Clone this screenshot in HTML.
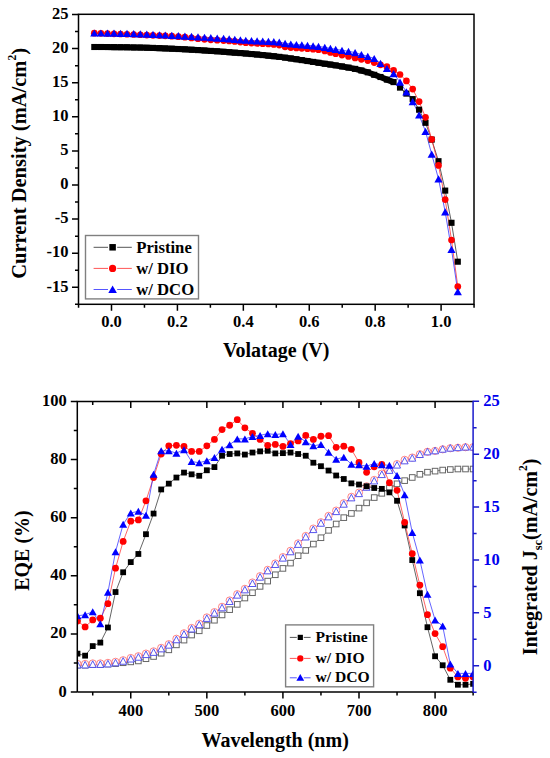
<!DOCTYPE html>
<html><head><meta charset="utf-8"><title>J-V and EQE</title>
<style>html,body{margin:0;padding:0;background:#fff;width:550px;height:758px;overflow:hidden}svg{display:block}text{font-family:"Liberation Serif",serif;font-weight:bold}</style>
</head><body>
<svg width="550" height="758" viewBox="0 0 550 758"><rect width="550" height="758" fill="#fff"/><g><polyline points="94.3,47 100.9,47.01 107.5,47.06 114,47.13 120.5,47.22 127,47.32 133.7,47.45 140.3,47.58 146.8,47.72 153,47.89 159.5,48.13 165.3,48.38 171.8,48.69 178.4,49.02 184.9,49.36 191.5,49.72 198,50.09 204.5,50.49 210.8,50.9 217.2,51.33 223.6,51.79 229.2,52.2 234.8,52.64 240.4,53.09 245.8,53.55 251.5,54.04 257.1,54.55 262.7,55.08 268.4,55.64 273.8,56.2 279.3,56.86 285.1,57.62 290.8,58.43 296.4,59.27 301.8,60.11 307.5,61.02 313.1,61.91 318.5,62.77 324.8,63.74 330.4,64.59 335.7,65.41 342,66.43 348.5,67.59 355.1,68.9 361.4,70.5 367.8,72.3 374.2,74.8 380.5,77 386.9,79.6 393.6,82.1 400,87.6 406.4,93.6 412.7,99.1 419.1,109.7 425.5,122.8 431.7,139.6 438.5,161.2 445.2,190.6 451.5,222.8 457.8,261.7" fill="none" stroke="#333" stroke-width="0.8"/><polyline points="94.3,33.19 100.9,33.37 107.5,33.57 114,33.78 120.5,34.01 127,34.24 133.7,34.5 140.3,34.77 146.8,35.03 153,35.29 159.5,35.58 165.3,35.86 171.8,36.21 178.4,36.63 184.9,37.21 191.5,37.96 198,38.71 204.5,39.34 210.8,39.79 217.2,40.18 223.6,40.56 229.2,40.93 234.8,41.38 240.4,42.05 245.8,42.67 251.5,43.09 257.1,43.39 262.7,43.66 268.4,43.99 273.8,44.41 279.3,45.05 285.1,46.82 290.8,47.54 296.4,48.02 301.8,48.36 307.5,48.71 313.1,49.15 318.5,49.77 324.8,51 330.4,52.39 335.7,53.65 342,55.04 348.5,56.45 355.1,57.9 361.4,59.3 367.8,60.6 374.2,62.6 380.5,64.8 386.9,66.7 393.6,70.3 400,74.5 406.4,80.9 412.7,89.1 419.1,101.6 425.5,117.3 431.7,139.3 438.5,165.4 445.2,199.6 451.5,240 457.8,286.6" fill="none" stroke="#f33" stroke-width="0.8"/><polyline points="94.3,33 100.9,33.02 107.5,33.08 114,33.17 120.5,33.28 127,33.4 133.7,33.59 140.3,33.85 146.8,34.13 153,34.41 159.5,34.73 165.3,35.02 171.8,35.37 178.4,35.72 184.9,36.08 191.5,36.45 198,36.84 204.5,37.23 210.8,37.62 217.2,38.03 223.6,38.47 229.2,38.91 234.8,39.39 240.4,39.86 245.8,40.25 251.5,40.57 257.1,40.81 262.7,41.04 268.4,41.31 273.8,41.65 279.3,42.13 285.1,43.31 290.8,43.99 296.4,44.5 301.8,44.92 307.5,45.34 313.1,45.82 318.5,46.4 324.8,47.35 330.4,48.35 335.7,49.3 342,50.29 348.5,51.31 355.1,52.6 361.4,54.5 367.8,56.4 374.2,58.5 380.5,63.4 386.9,68.5 393.6,73.7 400,82.2 406.4,91.8 412.7,101.6 419.1,115 425.5,131.3 431.7,154.2 438.5,178.9 445.2,211.9 451.5,249.4 457.8,291.7" fill="none" stroke="#33f" stroke-width="0.8"/><polyline points="94.3,47 100.9,47.01 107.5,47.06 114,47.13 120.5,47.22 127,47.32 133.7,47.45 140.3,47.58 146.8,47.72 153,47.89 159.5,48.13 165.3,48.38 171.8,48.69 178.4,49.02 184.9,49.36 191.5,49.72 198,50.09 204.5,50.49 210.8,50.9 217.2,51.33 223.6,51.79 229.2,52.2 234.8,52.64 240.4,53.09 245.8,53.55 251.5,54.04 257.1,54.55 262.7,55.08 268.4,55.64 273.8,56.2 279.3,56.86 285.1,57.62 290.8,58.43 296.4,59.27 301.8,60.11 307.5,61.02 313.1,61.91 318.5,62.77 324.8,63.74 330.4,64.59 335.7,65.41 342,66.43 348.5,67.59 355.1,68.9 361.4,70.5 367.8,72.3 374.2,74.8 380.5,77 386.9,79.6 393.6,82.1" fill="none" stroke="#000" stroke-width="6.0"/><rect x="91.25" y="43.95" width="6.1" height="6.1" fill="#000"/><rect x="97.85" y="43.96" width="6.1" height="6.1" fill="#000"/><rect x="104.45" y="44.01" width="6.1" height="6.1" fill="#000"/><rect x="110.95" y="44.08" width="6.1" height="6.1" fill="#000"/><rect x="117.45" y="44.17" width="6.1" height="6.1" fill="#000"/><rect x="123.95" y="44.27" width="6.1" height="6.1" fill="#000"/><rect x="130.65" y="44.4" width="6.1" height="6.1" fill="#000"/><rect x="137.25" y="44.53" width="6.1" height="6.1" fill="#000"/><rect x="143.75" y="44.67" width="6.1" height="6.1" fill="#000"/><rect x="149.95" y="44.84" width="6.1" height="6.1" fill="#000"/><rect x="156.45" y="45.08" width="6.1" height="6.1" fill="#000"/><rect x="162.25" y="45.33" width="6.1" height="6.1" fill="#000"/><rect x="168.75" y="45.64" width="6.1" height="6.1" fill="#000"/><rect x="175.35" y="45.97" width="6.1" height="6.1" fill="#000"/><rect x="181.85" y="46.31" width="6.1" height="6.1" fill="#000"/><rect x="188.45" y="46.67" width="6.1" height="6.1" fill="#000"/><rect x="194.95" y="47.04" width="6.1" height="6.1" fill="#000"/><rect x="201.45" y="47.44" width="6.1" height="6.1" fill="#000"/><rect x="207.75" y="47.85" width="6.1" height="6.1" fill="#000"/><rect x="214.15" y="48.28" width="6.1" height="6.1" fill="#000"/><rect x="220.55" y="48.74" width="6.1" height="6.1" fill="#000"/><rect x="226.15" y="49.15" width="6.1" height="6.1" fill="#000"/><rect x="231.75" y="49.59" width="6.1" height="6.1" fill="#000"/><rect x="237.35" y="50.04" width="6.1" height="6.1" fill="#000"/><rect x="242.75" y="50.5" width="6.1" height="6.1" fill="#000"/><rect x="248.45" y="50.99" width="6.1" height="6.1" fill="#000"/><rect x="254.05" y="51.5" width="6.1" height="6.1" fill="#000"/><rect x="259.65" y="52.03" width="6.1" height="6.1" fill="#000"/><rect x="265.35" y="52.59" width="6.1" height="6.1" fill="#000"/><rect x="270.75" y="53.15" width="6.1" height="6.1" fill="#000"/><rect x="276.25" y="53.81" width="6.1" height="6.1" fill="#000"/><rect x="282.05" y="54.57" width="6.1" height="6.1" fill="#000"/><rect x="287.75" y="55.38" width="6.1" height="6.1" fill="#000"/><rect x="293.35" y="56.22" width="6.1" height="6.1" fill="#000"/><rect x="298.75" y="57.06" width="6.1" height="6.1" fill="#000"/><rect x="304.45" y="57.97" width="6.1" height="6.1" fill="#000"/><rect x="310.05" y="58.86" width="6.1" height="6.1" fill="#000"/><rect x="315.45" y="59.72" width="6.1" height="6.1" fill="#000"/><rect x="321.75" y="60.69" width="6.1" height="6.1" fill="#000"/><rect x="327.35" y="61.54" width="6.1" height="6.1" fill="#000"/><rect x="332.65" y="62.36" width="6.1" height="6.1" fill="#000"/><rect x="338.95" y="63.38" width="6.1" height="6.1" fill="#000"/><rect x="345.45" y="64.54" width="6.1" height="6.1" fill="#000"/><rect x="352.05" y="65.85" width="6.1" height="6.1" fill="#000"/><rect x="358.35" y="67.45" width="6.1" height="6.1" fill="#000"/><rect x="364.75" y="69.25" width="6.1" height="6.1" fill="#000"/><rect x="371.15" y="71.75" width="6.1" height="6.1" fill="#000"/><rect x="377.45" y="73.95" width="6.1" height="6.1" fill="#000"/><rect x="383.85" y="76.55" width="6.1" height="6.1" fill="#000"/><rect x="390.55" y="79.05" width="6.1" height="6.1" fill="#000"/><rect x="396.95" y="84.55" width="6.1" height="6.1" fill="#000"/><rect x="403.35" y="90.55" width="6.1" height="6.1" fill="#000"/><rect x="409.65" y="96.05" width="6.1" height="6.1" fill="#000"/><rect x="416.05" y="106.65" width="6.1" height="6.1" fill="#000"/><rect x="422.45" y="119.75" width="6.1" height="6.1" fill="#000"/><rect x="428.65" y="136.55" width="6.1" height="6.1" fill="#000"/><rect x="435.45" y="158.15" width="6.1" height="6.1" fill="#000"/><rect x="442.15" y="187.55" width="6.1" height="6.1" fill="#000"/><rect x="448.45" y="219.75" width="6.1" height="6.1" fill="#000"/><rect x="454.75" y="258.65" width="6.1" height="6.1" fill="#000"/><circle cx="94.3" cy="33.19" r="3.35" fill="#f00"/><circle cx="100.9" cy="33.37" r="3.35" fill="#f00"/><circle cx="107.5" cy="33.57" r="3.35" fill="#f00"/><circle cx="114" cy="33.78" r="3.35" fill="#f00"/><circle cx="120.5" cy="34.01" r="3.35" fill="#f00"/><circle cx="127" cy="34.24" r="3.35" fill="#f00"/><circle cx="133.7" cy="34.5" r="3.35" fill="#f00"/><circle cx="140.3" cy="34.77" r="3.35" fill="#f00"/><circle cx="146.8" cy="35.03" r="3.35" fill="#f00"/><circle cx="153" cy="35.29" r="3.35" fill="#f00"/><circle cx="159.5" cy="35.58" r="3.35" fill="#f00"/><circle cx="165.3" cy="35.86" r="3.35" fill="#f00"/><circle cx="171.8" cy="36.21" r="3.35" fill="#f00"/><circle cx="178.4" cy="36.63" r="3.35" fill="#f00"/><circle cx="184.9" cy="37.21" r="3.35" fill="#f00"/><circle cx="191.5" cy="37.96" r="3.35" fill="#f00"/><circle cx="198" cy="38.71" r="3.35" fill="#f00"/><circle cx="204.5" cy="39.34" r="3.35" fill="#f00"/><circle cx="210.8" cy="39.79" r="3.35" fill="#f00"/><circle cx="217.2" cy="40.18" r="3.35" fill="#f00"/><circle cx="223.6" cy="40.56" r="3.35" fill="#f00"/><circle cx="229.2" cy="40.93" r="3.35" fill="#f00"/><circle cx="234.8" cy="41.38" r="3.35" fill="#f00"/><circle cx="240.4" cy="42.05" r="3.35" fill="#f00"/><circle cx="245.8" cy="42.67" r="3.35" fill="#f00"/><circle cx="251.5" cy="43.09" r="3.35" fill="#f00"/><circle cx="257.1" cy="43.39" r="3.35" fill="#f00"/><circle cx="262.7" cy="43.66" r="3.35" fill="#f00"/><circle cx="268.4" cy="43.99" r="3.35" fill="#f00"/><circle cx="273.8" cy="44.41" r="3.35" fill="#f00"/><circle cx="279.3" cy="45.05" r="3.35" fill="#f00"/><circle cx="285.1" cy="46.82" r="3.35" fill="#f00"/><circle cx="290.8" cy="47.54" r="3.35" fill="#f00"/><circle cx="296.4" cy="48.02" r="3.35" fill="#f00"/><circle cx="301.8" cy="48.36" r="3.35" fill="#f00"/><circle cx="307.5" cy="48.71" r="3.35" fill="#f00"/><circle cx="313.1" cy="49.15" r="3.35" fill="#f00"/><circle cx="318.5" cy="49.77" r="3.35" fill="#f00"/><circle cx="324.8" cy="51" r="3.35" fill="#f00"/><circle cx="330.4" cy="52.39" r="3.35" fill="#f00"/><circle cx="335.7" cy="53.65" r="3.35" fill="#f00"/><circle cx="342" cy="55.04" r="3.35" fill="#f00"/><circle cx="348.5" cy="56.45" r="3.35" fill="#f00"/><circle cx="355.1" cy="57.9" r="3.35" fill="#f00"/><circle cx="361.4" cy="59.3" r="3.35" fill="#f00"/><circle cx="367.8" cy="60.6" r="3.35" fill="#f00"/><circle cx="374.2" cy="62.6" r="3.35" fill="#f00"/><circle cx="380.5" cy="64.8" r="3.35" fill="#f00"/><circle cx="386.9" cy="66.7" r="3.35" fill="#f00"/><circle cx="393.6" cy="70.3" r="3.35" fill="#f00"/><circle cx="400" cy="74.5" r="3.35" fill="#f00"/><circle cx="406.4" cy="80.9" r="3.35" fill="#f00"/><circle cx="412.7" cy="89.1" r="3.35" fill="#f00"/><circle cx="419.1" cy="101.6" r="3.35" fill="#f00"/><circle cx="425.5" cy="117.3" r="3.35" fill="#f00"/><circle cx="431.7" cy="139.3" r="3.35" fill="#f00"/><circle cx="438.5" cy="165.4" r="3.35" fill="#f00"/><circle cx="445.2" cy="199.6" r="3.35" fill="#f00"/><circle cx="451.5" cy="240" r="3.35" fill="#f00"/><circle cx="457.8" cy="286.6" r="3.35" fill="#f00"/><polygon points="94.3,29.4 98.4,36.6 90.2,36.6" fill="#00f"/><polygon points="100.9,29.42 105,36.62 96.8,36.62" fill="#00f"/><polygon points="107.5,29.48 111.6,36.68 103.4,36.68" fill="#00f"/><polygon points="114,29.57 118.1,36.77 109.9,36.77" fill="#00f"/><polygon points="120.5,29.68 124.6,36.88 116.4,36.88" fill="#00f"/><polygon points="127,29.8 131.1,37 122.9,37" fill="#00f"/><polygon points="133.7,29.99 137.8,37.19 129.6,37.19" fill="#00f"/><polygon points="140.3,30.25 144.4,37.45 136.2,37.45" fill="#00f"/><polygon points="146.8,30.53 150.9,37.73 142.7,37.73" fill="#00f"/><polygon points="153,30.81 157.1,38.01 148.9,38.01" fill="#00f"/><polygon points="159.5,31.13 163.6,38.33 155.4,38.33" fill="#00f"/><polygon points="165.3,31.42 169.4,38.62 161.2,38.62" fill="#00f"/><polygon points="171.8,31.77 175.9,38.97 167.7,38.97" fill="#00f"/><polygon points="178.4,32.12 182.5,39.32 174.3,39.32" fill="#00f"/><polygon points="184.9,32.48 189,39.68 180.8,39.68" fill="#00f"/><polygon points="191.5,32.85 195.6,40.05 187.4,40.05" fill="#00f"/><polygon points="198,33.24 202.1,40.44 193.9,40.44" fill="#00f"/><polygon points="204.5,33.63 208.6,40.83 200.4,40.83" fill="#00f"/><polygon points="210.8,34.02 214.9,41.22 206.7,41.22" fill="#00f"/><polygon points="217.2,34.43 221.3,41.63 213.1,41.63" fill="#00f"/><polygon points="223.6,34.87 227.7,42.07 219.5,42.07" fill="#00f"/><polygon points="229.2,35.31 233.3,42.51 225.1,42.51" fill="#00f"/><polygon points="234.8,35.79 238.9,42.99 230.7,42.99" fill="#00f"/><polygon points="240.4,36.26 244.5,43.46 236.3,43.46" fill="#00f"/><polygon points="245.8,36.65 249.9,43.85 241.7,43.85" fill="#00f"/><polygon points="251.5,36.97 255.6,44.17 247.4,44.17" fill="#00f"/><polygon points="257.1,37.21 261.2,44.41 253,44.41" fill="#00f"/><polygon points="262.7,37.44 266.8,44.64 258.6,44.64" fill="#00f"/><polygon points="268.4,37.71 272.5,44.91 264.3,44.91" fill="#00f"/><polygon points="273.8,38.05 277.9,45.25 269.7,45.25" fill="#00f"/><polygon points="279.3,38.53 283.4,45.73 275.2,45.73" fill="#00f"/><polygon points="285.1,39.71 289.2,46.91 281,46.91" fill="#00f"/><polygon points="290.8,40.39 294.9,47.59 286.7,47.59" fill="#00f"/><polygon points="296.4,40.9 300.5,48.1 292.3,48.1" fill="#00f"/><polygon points="301.8,41.32 305.9,48.52 297.7,48.52" fill="#00f"/><polygon points="307.5,41.74 311.6,48.94 303.4,48.94" fill="#00f"/><polygon points="313.1,42.22 317.2,49.42 309,49.42" fill="#00f"/><polygon points="318.5,42.8 322.6,50 314.4,50" fill="#00f"/><polygon points="324.8,43.75 328.9,50.95 320.7,50.95" fill="#00f"/><polygon points="330.4,44.75 334.5,51.95 326.3,51.95" fill="#00f"/><polygon points="335.7,45.7 339.8,52.9 331.6,52.9" fill="#00f"/><polygon points="342,46.69 346.1,53.89 337.9,53.89" fill="#00f"/><polygon points="348.5,47.71 352.6,54.91 344.4,54.91" fill="#00f"/><polygon points="355.1,49 359.2,56.2 351,56.2" fill="#00f"/><polygon points="361.4,50.9 365.5,58.1 357.3,58.1" fill="#00f"/><polygon points="367.8,52.8 371.9,60 363.7,60" fill="#00f"/><polygon points="374.2,54.9 378.3,62.1 370.1,62.1" fill="#00f"/><polygon points="380.5,59.8 384.6,67 376.4,67" fill="#00f"/><polygon points="386.9,64.9 391,72.1 382.8,72.1" fill="#00f"/><polygon points="393.6,70.1 397.7,77.3 389.5,77.3" fill="#00f"/><polygon points="400,78.6 404.1,85.8 395.9,85.8" fill="#00f"/><polygon points="406.4,88.2 410.5,95.4 402.3,95.4" fill="#00f"/><polygon points="412.7,98 416.8,105.2 408.6,105.2" fill="#00f"/><polygon points="419.1,111.4 423.2,118.6 415,118.6" fill="#00f"/><polygon points="425.5,127.7 429.6,134.9 421.4,134.9" fill="#00f"/><polygon points="431.7,150.6 435.8,157.8 427.6,157.8" fill="#00f"/><polygon points="438.5,175.3 442.6,182.5 434.4,182.5" fill="#00f"/><polygon points="445.2,208.3 449.3,215.5 441.1,215.5" fill="#00f"/><polygon points="451.5,245.8 455.6,253 447.4,253" fill="#00f"/><polygon points="457.8,288.1 461.9,295.3 453.7,295.3" fill="#00f"/></g><g><rect x="85.5" y="235.5" width="113" height="63.4" fill="#fff" stroke="#808080" stroke-width="1.4"/><path d="M93.6,247.3H108M117.2,247.3H131.8" stroke="#555" stroke-width="1"/><rect x="109.35" y="244.05" width="6.5" height="6.5" fill="#000"/><text x="136.2" y="252.8" font-size="16.7">Pristine</text><path d="M93.6,268.4H108M117.2,268.4H131.8" stroke="#f55" stroke-width="1"/><circle cx="112.6" cy="268.4" r="3.6" fill="#f00"/><text x="136.2" y="273.9" font-size="16.7">w/ DIO</text><path d="M93.6,289.5H108M117.2,289.5H131.8" stroke="#55f" stroke-width="1"/><polygon points="112.6,285.4 116.9,293 108.3,293" fill="#00f"/><text x="136.2" y="295" font-size="16.7">w/ DCO</text></g><g><rect x="78.5" y="14.3" width="395.5" height="290.0" fill="none" stroke="#000" stroke-width="1.5"/><path d="M72.0,287.3H78.5 M72.0,253.2H78.5 M72.0,219.1H78.5 M72.0,185H78.5 M72.0,150.9H78.5 M72.0,116.8H78.5 M72.0,82.7H78.5 M72.0,48.6H78.5 M72.0,14.5H78.5 M75.0,304.35H78.5 M75.0,270.25H78.5 M75.0,236.15H78.5 M75.0,202.05H78.5 M75.0,167.95H78.5 M75.0,133.85H78.5 M75.0,99.75H78.5 M75.0,65.65H78.5 M75.0,31.55H78.5 M111.5,304.3V310.8 M177.42,304.3V310.8 M243.34,304.3V310.8 M309.26,304.3V310.8 M375.18,304.3V310.8 M441.1,304.3V310.8 M78.54,304.3V307.8 M144.46,304.3V307.8 M210.38,304.3V307.8 M276.3,304.3V307.8 M342.22,304.3V307.8 M408.14,304.3V307.8 M474.06,304.3V307.8" stroke="#000" stroke-width="1.5" fill="none"/></g><defs><clipPath id="cb"><rect x="77.3" y="401.4" width="395.8" height="290.6"/></clipPath></defs><g clip-path="url(#cb)"><polyline points="77.5,665.17 85.11,665.17 92.72,664.64 100.32,664.64 107.93,664.11 115.54,663.59 123.15,662.74 130.76,661.89 138.36,660.94 145.97,658.72 153.58,656.5 161.19,653.22 168.8,649.84 176.4,644.87 184.01,640.11 191.62,635.03 199.23,630.8 206.84,625.52 214.44,620.23 222.05,614.94 229.66,609.65 237.27,604.37 244.88,598.02 252.48,592.73 260.09,586.39 267.7,581.1 275.31,574.76 282.92,568.41 290.52,563.12 298.13,555.72 305.74,550.43 313.35,544.09 320.96,537.74 328.56,530.34 336.17,524 343.78,517.65 351.39,513.42 359,508.13 366.6,502.85 374.21,497.56 381.82,493.33 389.43,488.04 397.04,483.81 404.64,480.64 412.25,477.47 419.86,474.29 427.47,472.18 435.08,471.12 442.68,470.06 450.29,469.53 457.9,469.01 465.51,469.01 473.12,469.01" fill="none" stroke="#555" stroke-width="0.8"/><polyline points="77.5,664.64 85.11,664.64 92.72,664.11 100.32,664.11 107.93,663.59 115.54,662.53 123.15,660.94 130.76,658.72 138.36,656.92 145.97,654.28 153.58,652.06 161.19,648.57 168.8,644.87 176.4,639.47 184.01,633.98 191.62,628.69 199.23,624.46 206.84,618.11 214.44,612.83 222.05,607.54 229.66,601.19 237.27,594.85 244.88,589.56 252.48,583.22 260.09,576.87 267.7,570.53 275.31,564.18 282.92,557.84 290.52,551.49 298.13,544.09 305.74,536.69 313.35,529.28 320.96,522.94 328.56,516.59 336.17,511.31 343.78,503.9 351.39,497.56 359,493.33 366.6,486.98 374.21,480.64 381.82,474.29 389.43,470.06 397.04,464.78 404.64,460.55 412.25,457.9 419.86,454.2 427.47,451.56 435.08,450.5 442.68,448.91 450.29,447.86 457.9,447.33 465.51,446.8 473.12,446.8" fill="none" stroke="#f44" stroke-width="0.8"/><polyline points="77.5,664.64 85.11,664.64 92.72,664.11 100.32,664.11 107.93,663.59 115.54,662.53 123.15,660.94 130.76,658.72 138.36,656.92 145.97,654.28 153.58,652.06 161.19,648.57 168.8,644.87 176.4,639.47 184.01,633.98 191.62,628.69 199.23,624.46 206.84,618.11 214.44,612.83 222.05,607.54 229.66,601.19 237.27,594.85 244.88,589.56 252.48,583.22 260.09,576.87 267.7,570.53 275.31,564.18 282.92,557.84 290.52,551.49 298.13,544.09 305.74,536.69 313.35,529.28 320.96,522.94 328.56,516.59 336.17,511.31 343.78,503.9 351.39,497.56 359,493.33 366.6,486.98 374.21,480.64 381.82,474.29 389.43,470.06 397.04,464.78 404.64,460.55 412.25,457.9 419.86,454.2 427.47,451.56 435.08,450.5 442.68,448.91 450.29,447.86 457.9,447.33 465.51,446.8 473.12,446.8" fill="none" stroke="#44f" stroke-width="0.8"/><rect x="74.7" y="662.37" width="5.6" height="5.6" fill="#fff" stroke="#666" stroke-width="1"/><rect x="82.31" y="662.37" width="5.6" height="5.6" fill="#fff" stroke="#666" stroke-width="1"/><rect x="89.92" y="661.84" width="5.6" height="5.6" fill="#fff" stroke="#666" stroke-width="1"/><rect x="97.52" y="661.84" width="5.6" height="5.6" fill="#fff" stroke="#666" stroke-width="1"/><rect x="105.13" y="661.31" width="5.6" height="5.6" fill="#fff" stroke="#666" stroke-width="1"/><rect x="112.74" y="660.79" width="5.6" height="5.6" fill="#fff" stroke="#666" stroke-width="1"/><rect x="120.35" y="659.94" width="5.6" height="5.6" fill="#fff" stroke="#666" stroke-width="1"/><rect x="127.96" y="659.09" width="5.6" height="5.6" fill="#fff" stroke="#666" stroke-width="1"/><rect x="135.56" y="658.14" width="5.6" height="5.6" fill="#fff" stroke="#666" stroke-width="1"/><rect x="143.17" y="655.92" width="5.6" height="5.6" fill="#fff" stroke="#666" stroke-width="1"/><rect x="150.78" y="653.7" width="5.6" height="5.6" fill="#fff" stroke="#666" stroke-width="1"/><rect x="158.39" y="650.42" width="5.6" height="5.6" fill="#fff" stroke="#666" stroke-width="1"/><rect x="166" y="647.04" width="5.6" height="5.6" fill="#fff" stroke="#666" stroke-width="1"/><rect x="173.6" y="642.07" width="5.6" height="5.6" fill="#fff" stroke="#666" stroke-width="1"/><rect x="181.21" y="637.31" width="5.6" height="5.6" fill="#fff" stroke="#666" stroke-width="1"/><rect x="188.82" y="632.23" width="5.6" height="5.6" fill="#fff" stroke="#666" stroke-width="1"/><rect x="196.43" y="628" width="5.6" height="5.6" fill="#fff" stroke="#666" stroke-width="1"/><rect x="204.04" y="622.72" width="5.6" height="5.6" fill="#fff" stroke="#666" stroke-width="1"/><rect x="211.64" y="617.43" width="5.6" height="5.6" fill="#fff" stroke="#666" stroke-width="1"/><rect x="219.25" y="612.14" width="5.6" height="5.6" fill="#fff" stroke="#666" stroke-width="1"/><rect x="226.86" y="606.85" width="5.6" height="5.6" fill="#fff" stroke="#666" stroke-width="1"/><rect x="234.47" y="601.57" width="5.6" height="5.6" fill="#fff" stroke="#666" stroke-width="1"/><rect x="242.08" y="595.22" width="5.6" height="5.6" fill="#fff" stroke="#666" stroke-width="1"/><rect x="249.68" y="589.93" width="5.6" height="5.6" fill="#fff" stroke="#666" stroke-width="1"/><rect x="257.29" y="583.59" width="5.6" height="5.6" fill="#fff" stroke="#666" stroke-width="1"/><rect x="264.9" y="578.3" width="5.6" height="5.6" fill="#fff" stroke="#666" stroke-width="1"/><rect x="272.51" y="571.96" width="5.6" height="5.6" fill="#fff" stroke="#666" stroke-width="1"/><rect x="280.12" y="565.61" width="5.6" height="5.6" fill="#fff" stroke="#666" stroke-width="1"/><rect x="287.72" y="560.32" width="5.6" height="5.6" fill="#fff" stroke="#666" stroke-width="1"/><rect x="295.33" y="552.92" width="5.6" height="5.6" fill="#fff" stroke="#666" stroke-width="1"/><rect x="302.94" y="547.63" width="5.6" height="5.6" fill="#fff" stroke="#666" stroke-width="1"/><rect x="310.55" y="541.29" width="5.6" height="5.6" fill="#fff" stroke="#666" stroke-width="1"/><rect x="318.16" y="534.94" width="5.6" height="5.6" fill="#fff" stroke="#666" stroke-width="1"/><rect x="325.76" y="527.54" width="5.6" height="5.6" fill="#fff" stroke="#666" stroke-width="1"/><rect x="333.37" y="521.2" width="5.6" height="5.6" fill="#fff" stroke="#666" stroke-width="1"/><rect x="340.98" y="514.85" width="5.6" height="5.6" fill="#fff" stroke="#666" stroke-width="1"/><rect x="348.59" y="510.62" width="5.6" height="5.6" fill="#fff" stroke="#666" stroke-width="1"/><rect x="356.2" y="505.33" width="5.6" height="5.6" fill="#fff" stroke="#666" stroke-width="1"/><rect x="363.8" y="500.05" width="5.6" height="5.6" fill="#fff" stroke="#666" stroke-width="1"/><rect x="371.41" y="494.76" width="5.6" height="5.6" fill="#fff" stroke="#666" stroke-width="1"/><rect x="379.02" y="490.53" width="5.6" height="5.6" fill="#fff" stroke="#666" stroke-width="1"/><rect x="386.63" y="485.24" width="5.6" height="5.6" fill="#fff" stroke="#666" stroke-width="1"/><rect x="394.24" y="481.01" width="5.6" height="5.6" fill="#fff" stroke="#666" stroke-width="1"/><rect x="401.84" y="477.84" width="5.6" height="5.6" fill="#fff" stroke="#666" stroke-width="1"/><rect x="409.45" y="474.67" width="5.6" height="5.6" fill="#fff" stroke="#666" stroke-width="1"/><rect x="417.06" y="471.49" width="5.6" height="5.6" fill="#fff" stroke="#666" stroke-width="1"/><rect x="424.67" y="469.38" width="5.6" height="5.6" fill="#fff" stroke="#666" stroke-width="1"/><rect x="432.28" y="468.32" width="5.6" height="5.6" fill="#fff" stroke="#666" stroke-width="1"/><rect x="439.88" y="467.26" width="5.6" height="5.6" fill="#fff" stroke="#666" stroke-width="1"/><rect x="447.49" y="466.73" width="5.6" height="5.6" fill="#fff" stroke="#666" stroke-width="1"/><rect x="455.1" y="466.21" width="5.6" height="5.6" fill="#fff" stroke="#666" stroke-width="1"/><rect x="462.71" y="466.21" width="5.6" height="5.6" fill="#fff" stroke="#666" stroke-width="1"/><rect x="470.32" y="466.21" width="5.6" height="5.6" fill="#fff" stroke="#666" stroke-width="1"/><circle cx="77.5" cy="663.94" r="3.6" fill="#fff" stroke="#f66" stroke-width="0.8"/><circle cx="85.11" cy="663.94" r="3.6" fill="#fff" stroke="#f66" stroke-width="0.8"/><circle cx="92.72" cy="663.41" r="3.6" fill="#fff" stroke="#f66" stroke-width="0.8"/><circle cx="100.32" cy="663.41" r="3.6" fill="#fff" stroke="#f66" stroke-width="0.8"/><circle cx="107.93" cy="662.88" r="3.6" fill="#fff" stroke="#f66" stroke-width="0.8"/><circle cx="115.54" cy="661.83" r="3.6" fill="#fff" stroke="#f66" stroke-width="0.8"/><circle cx="123.15" cy="660.24" r="3.6" fill="#fff" stroke="#f66" stroke-width="0.8"/><circle cx="130.76" cy="658.02" r="3.6" fill="#fff" stroke="#f66" stroke-width="0.8"/><circle cx="138.36" cy="656.22" r="3.6" fill="#fff" stroke="#f66" stroke-width="0.8"/><circle cx="145.97" cy="653.58" r="3.6" fill="#fff" stroke="#f66" stroke-width="0.8"/><circle cx="153.58" cy="651.36" r="3.6" fill="#fff" stroke="#f66" stroke-width="0.8"/><circle cx="161.19" cy="647.87" r="3.6" fill="#fff" stroke="#f66" stroke-width="0.8"/><circle cx="168.8" cy="644.17" r="3.6" fill="#fff" stroke="#f66" stroke-width="0.8"/><circle cx="176.4" cy="638.77" r="3.6" fill="#fff" stroke="#f66" stroke-width="0.8"/><circle cx="184.01" cy="633.27" r="3.6" fill="#fff" stroke="#f66" stroke-width="0.8"/><circle cx="191.62" cy="627.99" r="3.6" fill="#fff" stroke="#f66" stroke-width="0.8"/><circle cx="199.23" cy="623.76" r="3.6" fill="#fff" stroke="#f66" stroke-width="0.8"/><circle cx="206.84" cy="617.41" r="3.6" fill="#fff" stroke="#f66" stroke-width="0.8"/><circle cx="214.44" cy="612.12" r="3.6" fill="#fff" stroke="#f66" stroke-width="0.8"/><circle cx="222.05" cy="606.84" r="3.6" fill="#fff" stroke="#f66" stroke-width="0.8"/><circle cx="229.66" cy="600.49" r="3.6" fill="#fff" stroke="#f66" stroke-width="0.8"/><circle cx="237.27" cy="594.15" r="3.6" fill="#fff" stroke="#f66" stroke-width="0.8"/><circle cx="244.88" cy="588.86" r="3.6" fill="#fff" stroke="#f66" stroke-width="0.8"/><circle cx="252.48" cy="582.51" r="3.6" fill="#fff" stroke="#f66" stroke-width="0.8"/><circle cx="260.09" cy="576.17" r="3.6" fill="#fff" stroke="#f66" stroke-width="0.8"/><circle cx="267.7" cy="569.83" r="3.6" fill="#fff" stroke="#f66" stroke-width="0.8"/><circle cx="275.31" cy="563.48" r="3.6" fill="#fff" stroke="#f66" stroke-width="0.8"/><circle cx="282.92" cy="557.13" r="3.6" fill="#fff" stroke="#f66" stroke-width="0.8"/><circle cx="290.52" cy="550.79" r="3.6" fill="#fff" stroke="#f66" stroke-width="0.8"/><circle cx="298.13" cy="543.39" r="3.6" fill="#fff" stroke="#f66" stroke-width="0.8"/><circle cx="305.74" cy="535.99" r="3.6" fill="#fff" stroke="#f66" stroke-width="0.8"/><circle cx="313.35" cy="528.58" r="3.6" fill="#fff" stroke="#f66" stroke-width="0.8"/><circle cx="320.96" cy="522.24" r="3.6" fill="#fff" stroke="#f66" stroke-width="0.8"/><circle cx="328.56" cy="515.89" r="3.6" fill="#fff" stroke="#f66" stroke-width="0.8"/><circle cx="336.17" cy="510.61" r="3.6" fill="#fff" stroke="#f66" stroke-width="0.8"/><circle cx="343.78" cy="503.2" r="3.6" fill="#fff" stroke="#f66" stroke-width="0.8"/><circle cx="351.39" cy="496.86" r="3.6" fill="#fff" stroke="#f66" stroke-width="0.8"/><circle cx="359" cy="492.63" r="3.6" fill="#fff" stroke="#f66" stroke-width="0.8"/><circle cx="366.6" cy="486.28" r="3.6" fill="#fff" stroke="#f66" stroke-width="0.8"/><circle cx="374.21" cy="479.94" r="3.6" fill="#fff" stroke="#f66" stroke-width="0.8"/><circle cx="381.82" cy="473.59" r="3.6" fill="#fff" stroke="#f66" stroke-width="0.8"/><circle cx="389.43" cy="469.36" r="3.6" fill="#fff" stroke="#f66" stroke-width="0.8"/><circle cx="397.04" cy="464.08" r="3.6" fill="#fff" stroke="#f66" stroke-width="0.8"/><circle cx="404.64" cy="459.85" r="3.6" fill="#fff" stroke="#f66" stroke-width="0.8"/><circle cx="412.25" cy="457.55" r="3.6" fill="#fff" stroke="#f66" stroke-width="0.8"/><circle cx="419.86" cy="454.2" r="3.6" fill="#fff" stroke="#f66" stroke-width="0.8"/><circle cx="427.47" cy="451.76" r="3.6" fill="#fff" stroke="#f66" stroke-width="0.8"/><circle cx="435.08" cy="450.9" r="3.6" fill="#fff" stroke="#f66" stroke-width="0.8"/><circle cx="442.68" cy="449.31" r="3.6" fill="#fff" stroke="#f66" stroke-width="0.8"/><circle cx="450.29" cy="448.25" r="3.6" fill="#fff" stroke="#f66" stroke-width="0.8"/><circle cx="457.9" cy="447.73" r="3.6" fill="#fff" stroke="#f66" stroke-width="0.8"/><circle cx="465.51" cy="447.2" r="3.6" fill="#fff" stroke="#f66" stroke-width="0.8"/><circle cx="473.12" cy="447.2" r="3.6" fill="#fff" stroke="#f66" stroke-width="0.8"/><polygon points="77.5,661.34 81,667.94 74,667.94" fill="#fff" stroke="#44e" stroke-width="0.9"/><polygon points="85.11,661.34 88.61,667.94 81.61,667.94" fill="#fff" stroke="#44e" stroke-width="0.9"/><polygon points="92.72,660.81 96.22,667.41 89.22,667.41" fill="#fff" stroke="#44e" stroke-width="0.9"/><polygon points="100.32,660.81 103.82,667.41 96.82,667.41" fill="#fff" stroke="#44e" stroke-width="0.9"/><polygon points="107.93,660.29 111.43,666.88 104.43,666.88" fill="#fff" stroke="#44e" stroke-width="0.9"/><polygon points="115.54,659.23 119.04,665.83 112.04,665.83" fill="#fff" stroke="#44e" stroke-width="0.9"/><polygon points="123.15,657.64 126.65,664.24 119.65,664.24" fill="#fff" stroke="#44e" stroke-width="0.9"/><polygon points="130.76,655.42 134.26,662.02 127.26,662.02" fill="#fff" stroke="#44e" stroke-width="0.9"/><polygon points="138.36,653.62 141.86,660.22 134.86,660.22" fill="#fff" stroke="#44e" stroke-width="0.9"/><polygon points="145.97,650.98 149.47,657.58 142.47,657.58" fill="#fff" stroke="#44e" stroke-width="0.9"/><polygon points="153.58,648.76 157.08,655.36 150.08,655.36" fill="#fff" stroke="#44e" stroke-width="0.9"/><polygon points="161.19,645.27 164.69,651.87 157.69,651.87" fill="#fff" stroke="#44e" stroke-width="0.9"/><polygon points="168.8,641.57 172.3,648.17 165.3,648.17" fill="#fff" stroke="#44e" stroke-width="0.9"/><polygon points="176.4,636.17 179.9,642.77 172.9,642.77" fill="#fff" stroke="#44e" stroke-width="0.9"/><polygon points="184.01,630.68 187.51,637.27 180.51,637.27" fill="#fff" stroke="#44e" stroke-width="0.9"/><polygon points="191.62,625.39 195.12,631.99 188.12,631.99" fill="#fff" stroke="#44e" stroke-width="0.9"/><polygon points="199.23,621.16 202.73,627.76 195.73,627.76" fill="#fff" stroke="#44e" stroke-width="0.9"/><polygon points="206.84,614.81 210.34,621.41 203.34,621.41" fill="#fff" stroke="#44e" stroke-width="0.9"/><polygon points="214.44,609.53 217.94,616.12 210.94,616.12" fill="#fff" stroke="#44e" stroke-width="0.9"/><polygon points="222.05,604.24 225.55,610.84 218.55,610.84" fill="#fff" stroke="#44e" stroke-width="0.9"/><polygon points="229.66,597.89 233.16,604.49 226.16,604.49" fill="#fff" stroke="#44e" stroke-width="0.9"/><polygon points="237.27,591.55 240.77,598.15 233.77,598.15" fill="#fff" stroke="#44e" stroke-width="0.9"/><polygon points="244.88,586.26 248.38,592.86 241.38,592.86" fill="#fff" stroke="#44e" stroke-width="0.9"/><polygon points="252.48,579.92 255.98,586.51 248.98,586.51" fill="#fff" stroke="#44e" stroke-width="0.9"/><polygon points="260.09,573.57 263.59,580.17 256.59,580.17" fill="#fff" stroke="#44e" stroke-width="0.9"/><polygon points="267.7,567.23 271.2,573.83 264.2,573.83" fill="#fff" stroke="#44e" stroke-width="0.9"/><polygon points="275.31,560.88 278.81,567.48 271.81,567.48" fill="#fff" stroke="#44e" stroke-width="0.9"/><polygon points="282.92,554.54 286.42,561.13 279.42,561.13" fill="#fff" stroke="#44e" stroke-width="0.9"/><polygon points="290.52,548.19 294.02,554.79 287.02,554.79" fill="#fff" stroke="#44e" stroke-width="0.9"/><polygon points="298.13,540.79 301.63,547.39 294.63,547.39" fill="#fff" stroke="#44e" stroke-width="0.9"/><polygon points="305.74,533.39 309.24,539.99 302.24,539.99" fill="#fff" stroke="#44e" stroke-width="0.9"/><polygon points="313.35,525.98 316.85,532.58 309.85,532.58" fill="#fff" stroke="#44e" stroke-width="0.9"/><polygon points="320.96,519.64 324.46,526.24 317.46,526.24" fill="#fff" stroke="#44e" stroke-width="0.9"/><polygon points="328.56,513.29 332.06,519.89 325.06,519.89" fill="#fff" stroke="#44e" stroke-width="0.9"/><polygon points="336.17,508.01 339.67,514.61 332.67,514.61" fill="#fff" stroke="#44e" stroke-width="0.9"/><polygon points="343.78,500.6 347.28,507.2 340.28,507.2" fill="#fff" stroke="#44e" stroke-width="0.9"/><polygon points="351.39,494.26 354.89,500.86 347.89,500.86" fill="#fff" stroke="#44e" stroke-width="0.9"/><polygon points="359,490.03 362.5,496.63 355.5,496.63" fill="#fff" stroke="#44e" stroke-width="0.9"/><polygon points="366.6,483.68 370.1,490.28 363.1,490.28" fill="#fff" stroke="#44e" stroke-width="0.9"/><polygon points="374.21,477.34 377.71,483.94 370.71,483.94" fill="#fff" stroke="#44e" stroke-width="0.9"/><polygon points="381.82,470.99 385.32,477.59 378.32,477.59" fill="#fff" stroke="#44e" stroke-width="0.9"/><polygon points="389.43,466.76 392.93,473.36 385.93,473.36" fill="#fff" stroke="#44e" stroke-width="0.9"/><polygon points="397.04,461.48 400.54,468.08 393.54,468.08" fill="#fff" stroke="#44e" stroke-width="0.9"/><polygon points="404.64,457.25 408.14,463.85 401.14,463.85" fill="#fff" stroke="#44e" stroke-width="0.9"/><polygon points="412.25,454.6 415.75,461.2 408.75,461.2" fill="#fff" stroke="#44e" stroke-width="0.9"/><polygon points="419.86,450.9 423.36,457.5 416.36,457.5" fill="#fff" stroke="#44e" stroke-width="0.9"/><polygon points="427.47,448.26 430.97,454.86 423.97,454.86" fill="#fff" stroke="#44e" stroke-width="0.9"/><polygon points="435.08,447.2 438.58,453.8 431.58,453.8" fill="#fff" stroke="#44e" stroke-width="0.9"/><polygon points="442.68,445.61 446.18,452.21 439.18,452.21" fill="#fff" stroke="#44e" stroke-width="0.9"/><polygon points="450.29,444.56 453.79,451.16 446.79,451.16" fill="#fff" stroke="#44e" stroke-width="0.9"/><polygon points="457.9,444.03 461.4,450.63 454.4,450.63" fill="#fff" stroke="#44e" stroke-width="0.9"/><polygon points="465.51,443.5 469.01,450.1 462.01,450.1" fill="#fff" stroke="#44e" stroke-width="0.9"/><polygon points="473.12,443.5 476.62,450.1 469.62,450.1" fill="#fff" stroke="#44e" stroke-width="0.9"/><polyline points="77.5,653.64 85.11,655.67 92.72,646.09 100.32,642.6 107.93,627.49 115.54,592.03 123.15,572.27 130.76,562.1 138.36,553.97 145.97,534.2 153.58,513.57 161.19,489.45 168.8,483.64 176.4,477.54 184.01,472.6 191.62,474.34 199.23,475.79 206.84,470.27 214.44,467.08 222.05,455.74 229.66,454 237.27,453.42 244.88,454.58 252.48,452.55 260.09,451.38 267.7,450.8 275.31,453.42 282.92,453.13 290.52,452.55 298.13,454 305.74,455.74 313.35,462.72 320.96,466.2 328.56,470.56 336.17,475.5 343.78,478.99 351.39,483.35 359,484.51 366.6,486.26 374.21,488 381.82,488.87 389.43,492.36 397.04,500.79 404.64,525.49 412.25,560.07 419.86,593.2 427.47,627.2 435.08,656.26 442.68,665.26 450.29,679.79 457.9,684.74 465.51,684.74 473.12,683.86" fill="none" stroke="#222" stroke-width="0.7"/><polyline points="77.5,621.09 85.11,626.91 92.72,619.93 100.32,618.19 107.93,603.66 115.54,568.2 123.15,541.47 130.76,521.13 138.36,519.96 145.97,500.79 153.58,477.54 161.19,454 168.8,445.86 176.4,445.28 184.01,446.44 191.62,451.38 199.23,451.38 206.84,445.86 214.44,439.47 222.05,429.59 229.66,425.23 237.27,419.71 244.88,427.84 252.48,433.37 260.09,439.47 267.7,445.28 275.31,444.41 282.92,446.44 290.52,443.54 298.13,440.92 305.74,435.4 313.35,439.47 320.96,436.27 328.56,435.69 336.17,447.31 343.78,446.15 351.39,449.35 359,462.43 366.6,472.31 374.21,466.78 381.82,464.46 389.43,482.77 397.04,490.32 404.64,522.29 412.25,553.67 419.86,585.06 427.47,614.7 435.08,633.59 442.68,646.67 450.29,668.17 457.9,676.89 465.51,678.34 473.12,676.89" fill="none" stroke="#f22" stroke-width="0.7"/><polyline points="77.5,615.86 85.11,614.7 92.72,611.79 100.32,623.71 107.93,592.32 115.54,551.64 123.15,524.32 130.76,512.99 138.36,511.25 145.97,515.32 153.58,474.34 161.19,450.8 168.8,450.8 176.4,453.13 184.01,449.64 191.62,461.55 199.23,462.72 206.84,460.68 214.44,457.49 222.05,449.35 229.66,444.7 237.27,438.89 244.88,438.89 252.48,436.56 260.09,435.4 267.7,433.66 275.31,434.53 282.92,433.66 290.52,444.41 298.13,436.27 305.74,441.79 313.35,445.86 320.96,444.41 328.56,452.25 336.17,459.23 343.78,457.2 351.39,464.17 359,464.75 366.6,466.2 374.21,463.59 381.82,464.75 389.43,465.33 397.04,475.5 404.64,494.68 412.25,532.46 419.86,560.07 427.47,594.36 435.08,619.93 442.68,626.03 450.29,664.1 457.9,673.4 465.51,673.4 473.12,673.4" fill="none" stroke="#22f" stroke-width="0.7"/><rect x="74.6" y="650.74" width="5.8" height="5.8" fill="#000"/><rect x="82.21" y="652.77" width="5.8" height="5.8" fill="#000"/><rect x="89.82" y="643.19" width="5.8" height="5.8" fill="#000"/><rect x="97.42" y="639.7" width="5.8" height="5.8" fill="#000"/><rect x="105.03" y="624.59" width="5.8" height="5.8" fill="#000"/><rect x="112.64" y="589.13" width="5.8" height="5.8" fill="#000"/><rect x="120.25" y="569.37" width="5.8" height="5.8" fill="#000"/><rect x="127.86" y="559.2" width="5.8" height="5.8" fill="#000"/><rect x="135.46" y="551.07" width="5.8" height="5.8" fill="#000"/><rect x="143.07" y="531.3" width="5.8" height="5.8" fill="#000"/><rect x="150.68" y="510.67" width="5.8" height="5.8" fill="#000"/><rect x="158.29" y="486.55" width="5.8" height="5.8" fill="#000"/><rect x="165.9" y="480.74" width="5.8" height="5.8" fill="#000"/><rect x="173.5" y="474.64" width="5.8" height="5.8" fill="#000"/><rect x="181.11" y="469.7" width="5.8" height="5.8" fill="#000"/><rect x="188.72" y="471.44" width="5.8" height="5.8" fill="#000"/><rect x="196.33" y="472.89" width="5.8" height="5.8" fill="#000"/><rect x="203.94" y="467.37" width="5.8" height="5.8" fill="#000"/><rect x="211.54" y="464.18" width="5.8" height="5.8" fill="#000"/><rect x="219.15" y="452.84" width="5.8" height="5.8" fill="#000"/><rect x="226.76" y="451.1" width="5.8" height="5.8" fill="#000"/><rect x="234.37" y="450.52" width="5.8" height="5.8" fill="#000"/><rect x="241.98" y="451.68" width="5.8" height="5.8" fill="#000"/><rect x="249.58" y="449.65" width="5.8" height="5.8" fill="#000"/><rect x="257.19" y="448.48" width="5.8" height="5.8" fill="#000"/><rect x="264.8" y="447.9" width="5.8" height="5.8" fill="#000"/><rect x="272.41" y="450.52" width="5.8" height="5.8" fill="#000"/><rect x="280.02" y="450.23" width="5.8" height="5.8" fill="#000"/><rect x="287.62" y="449.65" width="5.8" height="5.8" fill="#000"/><rect x="295.23" y="451.1" width="5.8" height="5.8" fill="#000"/><rect x="302.84" y="452.84" width="5.8" height="5.8" fill="#000"/><rect x="310.45" y="459.82" width="5.8" height="5.8" fill="#000"/><rect x="318.06" y="463.3" width="5.8" height="5.8" fill="#000"/><rect x="325.66" y="467.66" width="5.8" height="5.8" fill="#000"/><rect x="333.27" y="472.6" width="5.8" height="5.8" fill="#000"/><rect x="340.88" y="476.09" width="5.8" height="5.8" fill="#000"/><rect x="348.49" y="480.45" width="5.8" height="5.8" fill="#000"/><rect x="356.1" y="481.61" width="5.8" height="5.8" fill="#000"/><rect x="363.7" y="483.36" width="5.8" height="5.8" fill="#000"/><rect x="371.31" y="485.1" width="5.8" height="5.8" fill="#000"/><rect x="378.92" y="485.97" width="5.8" height="5.8" fill="#000"/><rect x="386.53" y="489.46" width="5.8" height="5.8" fill="#000"/><rect x="394.14" y="497.89" width="5.8" height="5.8" fill="#000"/><rect x="401.74" y="522.59" width="5.8" height="5.8" fill="#000"/><rect x="409.35" y="557.17" width="5.8" height="5.8" fill="#000"/><rect x="416.96" y="590.3" width="5.8" height="5.8" fill="#000"/><rect x="424.57" y="624.3" width="5.8" height="5.8" fill="#000"/><rect x="432.18" y="653.36" width="5.8" height="5.8" fill="#000"/><rect x="439.78" y="662.36" width="5.8" height="5.8" fill="#000"/><rect x="447.39" y="676.89" width="5.8" height="5.8" fill="#000"/><rect x="455" y="681.84" width="5.8" height="5.8" fill="#000"/><rect x="462.61" y="681.84" width="5.8" height="5.8" fill="#000"/><rect x="470.22" y="680.96" width="5.8" height="5.8" fill="#000"/><circle cx="77.5" cy="621.09" r="3.4" fill="#f00"/><circle cx="85.11" cy="626.91" r="3.4" fill="#f00"/><circle cx="92.72" cy="619.93" r="3.4" fill="#f00"/><circle cx="100.32" cy="618.19" r="3.4" fill="#f00"/><circle cx="107.93" cy="603.66" r="3.4" fill="#f00"/><circle cx="115.54" cy="568.2" r="3.4" fill="#f00"/><circle cx="123.15" cy="541.47" r="3.4" fill="#f00"/><circle cx="130.76" cy="521.13" r="3.4" fill="#f00"/><circle cx="138.36" cy="519.96" r="3.4" fill="#f00"/><circle cx="145.97" cy="500.79" r="3.4" fill="#f00"/><circle cx="153.58" cy="477.54" r="3.4" fill="#f00"/><circle cx="161.19" cy="454" r="3.4" fill="#f00"/><circle cx="168.8" cy="445.86" r="3.4" fill="#f00"/><circle cx="176.4" cy="445.28" r="3.4" fill="#f00"/><circle cx="184.01" cy="446.44" r="3.4" fill="#f00"/><circle cx="191.62" cy="451.38" r="3.4" fill="#f00"/><circle cx="199.23" cy="451.38" r="3.4" fill="#f00"/><circle cx="206.84" cy="445.86" r="3.4" fill="#f00"/><circle cx="214.44" cy="439.47" r="3.4" fill="#f00"/><circle cx="222.05" cy="429.59" r="3.4" fill="#f00"/><circle cx="229.66" cy="425.23" r="3.4" fill="#f00"/><circle cx="237.27" cy="419.71" r="3.4" fill="#f00"/><circle cx="244.88" cy="427.84" r="3.4" fill="#f00"/><circle cx="252.48" cy="433.37" r="3.4" fill="#f00"/><circle cx="260.09" cy="439.47" r="3.4" fill="#f00"/><circle cx="267.7" cy="445.28" r="3.4" fill="#f00"/><circle cx="275.31" cy="444.41" r="3.4" fill="#f00"/><circle cx="282.92" cy="446.44" r="3.4" fill="#f00"/><circle cx="290.52" cy="443.54" r="3.4" fill="#f00"/><circle cx="298.13" cy="440.92" r="3.4" fill="#f00"/><circle cx="305.74" cy="435.4" r="3.4" fill="#f00"/><circle cx="313.35" cy="439.47" r="3.4" fill="#f00"/><circle cx="320.96" cy="436.27" r="3.4" fill="#f00"/><circle cx="328.56" cy="435.69" r="3.4" fill="#f00"/><circle cx="336.17" cy="447.31" r="3.4" fill="#f00"/><circle cx="343.78" cy="446.15" r="3.4" fill="#f00"/><circle cx="351.39" cy="449.35" r="3.4" fill="#f00"/><circle cx="359" cy="462.43" r="3.4" fill="#f00"/><circle cx="366.6" cy="472.31" r="3.4" fill="#f00"/><circle cx="374.21" cy="466.78" r="3.4" fill="#f00"/><circle cx="381.82" cy="464.46" r="3.4" fill="#f00"/><circle cx="389.43" cy="482.77" r="3.4" fill="#f00"/><circle cx="397.04" cy="490.32" r="3.4" fill="#f00"/><circle cx="404.64" cy="522.29" r="3.4" fill="#f00"/><circle cx="412.25" cy="553.67" r="3.4" fill="#f00"/><circle cx="419.86" cy="585.06" r="3.4" fill="#f00"/><circle cx="427.47" cy="614.7" r="3.4" fill="#f00"/><circle cx="435.08" cy="633.59" r="3.4" fill="#f00"/><circle cx="442.68" cy="646.67" r="3.4" fill="#f00"/><circle cx="450.29" cy="668.17" r="3.4" fill="#f00"/><circle cx="457.9" cy="676.89" r="3.4" fill="#f00"/><circle cx="465.51" cy="678.34" r="3.4" fill="#f00"/><circle cx="473.12" cy="676.89" r="3.4" fill="#f00"/><polygon points="77.5,612.36 81.5,619.36 73.5,619.36" fill="#00f"/><polygon points="85.11,611.2 89.11,618.2 81.11,618.2" fill="#00f"/><polygon points="92.72,608.29 96.72,615.29 88.72,615.29" fill="#00f"/><polygon points="100.32,620.21 104.32,627.21 96.32,627.21" fill="#00f"/><polygon points="107.93,588.82 111.93,595.82 103.93,595.82" fill="#00f"/><polygon points="115.54,548.14 119.54,555.14 111.54,555.14" fill="#00f"/><polygon points="123.15,520.82 127.15,527.82 119.15,527.82" fill="#00f"/><polygon points="130.76,509.49 134.76,516.49 126.76,516.49" fill="#00f"/><polygon points="138.36,507.75 142.36,514.75 134.36,514.75" fill="#00f"/><polygon points="145.97,511.82 149.97,518.82 141.97,518.82" fill="#00f"/><polygon points="153.58,470.84 157.58,477.84 149.58,477.84" fill="#00f"/><polygon points="161.19,447.3 165.19,454.3 157.19,454.3" fill="#00f"/><polygon points="168.8,447.3 172.8,454.3 164.8,454.3" fill="#00f"/><polygon points="176.4,449.63 180.4,456.63 172.4,456.63" fill="#00f"/><polygon points="184.01,446.14 188.01,453.14 180.01,453.14" fill="#00f"/><polygon points="191.62,458.05 195.62,465.05 187.62,465.05" fill="#00f"/><polygon points="199.23,459.22 203.23,466.22 195.23,466.22" fill="#00f"/><polygon points="206.84,457.18 210.84,464.18 202.84,464.18" fill="#00f"/><polygon points="214.44,453.99 218.44,460.99 210.44,460.99" fill="#00f"/><polygon points="222.05,445.85 226.05,452.85 218.05,452.85" fill="#00f"/><polygon points="229.66,441.2 233.66,448.2 225.66,448.2" fill="#00f"/><polygon points="237.27,435.39 241.27,442.39 233.27,442.39" fill="#00f"/><polygon points="244.88,435.39 248.88,442.39 240.88,442.39" fill="#00f"/><polygon points="252.48,433.06 256.48,440.06 248.48,440.06" fill="#00f"/><polygon points="260.09,431.9 264.09,438.9 256.09,438.9" fill="#00f"/><polygon points="267.7,430.16 271.7,437.16 263.7,437.16" fill="#00f"/><polygon points="275.31,431.03 279.31,438.03 271.31,438.03" fill="#00f"/><polygon points="282.92,430.16 286.92,437.16 278.92,437.16" fill="#00f"/><polygon points="290.52,440.91 294.52,447.91 286.52,447.91" fill="#00f"/><polygon points="298.13,432.77 302.13,439.77 294.13,439.77" fill="#00f"/><polygon points="305.74,438.29 309.74,445.29 301.74,445.29" fill="#00f"/><polygon points="313.35,442.36 317.35,449.36 309.35,449.36" fill="#00f"/><polygon points="320.96,440.91 324.96,447.91 316.96,447.91" fill="#00f"/><polygon points="328.56,448.75 332.56,455.75 324.56,455.75" fill="#00f"/><polygon points="336.17,455.73 340.17,462.73 332.17,462.73" fill="#00f"/><polygon points="343.78,453.7 347.78,460.7 339.78,460.7" fill="#00f"/><polygon points="351.39,460.67 355.39,467.67 347.39,467.67" fill="#00f"/><polygon points="359,461.25 363,468.25 355,468.25" fill="#00f"/><polygon points="366.6,462.7 370.6,469.7 362.6,469.7" fill="#00f"/><polygon points="374.21,460.09 378.21,467.09 370.21,467.09" fill="#00f"/><polygon points="381.82,461.25 385.82,468.25 377.82,468.25" fill="#00f"/><polygon points="389.43,461.83 393.43,468.83 385.43,468.83" fill="#00f"/><polygon points="397.04,472 401.04,479 393.04,479" fill="#00f"/><polygon points="404.64,491.18 408.64,498.18 400.64,498.18" fill="#00f"/><polygon points="412.25,528.96 416.25,535.96 408.25,535.96" fill="#00f"/><polygon points="419.86,556.57 423.86,563.57 415.86,563.57" fill="#00f"/><polygon points="427.47,590.86 431.47,597.86 423.47,597.86" fill="#00f"/><polygon points="435.08,616.43 439.08,623.43 431.08,623.43" fill="#00f"/><polygon points="442.68,622.53 446.68,629.53 438.68,629.53" fill="#00f"/><polygon points="450.29,660.6 454.29,667.6 446.29,667.6" fill="#00f"/><polygon points="457.9,669.9 461.9,676.9 453.9,676.9" fill="#00f"/><polygon points="465.51,669.9 469.51,676.9 461.51,676.9" fill="#00f"/><polygon points="473.12,669.9 477.12,676.9 469.12,676.9" fill="#00f"/></g><g><rect x="285.6" y="624.9" width="88" height="61.9" fill="#fff" stroke="#808080" stroke-width="1.4"/><path d="M289.8,637.4H296.8M303.8,637.4H310.6" stroke="#555" stroke-width="1"/><rect x="297.7" y="634.8" width="5.2" height="5.2" fill="#000"/><text x="315.6" y="641.6" font-size="15.6">Pristine</text><path d="M289.8,658.4H296.8M303.8,658.4H310.6" stroke="#f55" stroke-width="1"/><circle cx="300.3" cy="658.4" r="3.15" fill="#f00"/><text x="315.6" y="662.6" font-size="15.6">w/ DIO</text><path d="M289.8,677.8H296.8M303.8,677.8H310.6" stroke="#55f" stroke-width="1"/><polygon points="300.3,674 304.2,680.8 296.4,680.8" fill="#00f"/><text x="315.6" y="682" font-size="15.6">w/ DCO</text></g><g><path d="M77.3,692.0V401.4H473.1" fill="none" stroke="#000" stroke-width="1.5"/><path d="M77.3,692.0H473.1" fill="none" stroke="#000" stroke-width="1.5"/><path d="M473.1,400.65V692.75" fill="none" stroke="#1a1acc" stroke-width="1.5"/><path d="M70.8,692H77.3 M70.8,633.88H77.3 M70.8,575.76H77.3 M70.8,517.64H77.3 M70.8,459.52H77.3 M70.8,401.4H77.3 M73.8,662.94H77.3 M73.8,604.82H77.3 M73.8,546.7H77.3 M73.8,488.58H77.3 M73.8,430.46H77.3 M130.76,401.4V407.9 M130.76,692.0V698.5 M206.84,401.4V407.9 M206.84,692.0V698.5 M282.92,401.4V407.9 M282.92,692.0V698.5 M359,401.4V407.9 M359,692.0V698.5 M435.08,401.4V407.9 M435.08,692.0V698.5 M92.72,401.4V404.9 M92.72,692.0V695.5 M168.8,401.4V404.9 M168.8,692.0V695.5 M244.88,401.4V404.9 M244.88,692.0V695.5 M320.96,401.4V404.9 M320.96,692.0V695.5 M397.04,401.4V404.9 M397.04,692.0V695.5 M473.12,692.0V695.5" stroke="#000" stroke-width="1.5" fill="none"/><path d="M473.1,665.7H479.1 M473.1,612.83H479.1 M473.1,559.95H479.1 M473.1,507.08H479.1 M473.1,454.2H479.1 M473.1,401.33H479.1 M473.1,692.14H476.6 M473.1,639.26H476.6 M473.1,586.39H476.6 M473.1,533.51H476.6 M473.1,480.64H476.6 M473.1,427.76H476.6" stroke="#1a1acc" stroke-width="1.5" fill="none"/></g><g font-family="Liberation Serif, serif" font-weight="bold" fill="#000"><text x="68.6" y="291.5" text-anchor="end" font-size="16.5">-15</text><text x="68.6" y="257.4" text-anchor="end" font-size="16.5">-10</text><text x="68.6" y="223.3" text-anchor="end" font-size="16.5">-5</text><text x="68.6" y="189.2" text-anchor="end" font-size="16.5">0</text><text x="68.6" y="155.1" text-anchor="end" font-size="16.5">5</text><text x="68.6" y="121" text-anchor="end" font-size="16.5">10</text><text x="68.6" y="86.9" text-anchor="end" font-size="16.5">15</text><text x="68.6" y="52.8" text-anchor="end" font-size="16.5">20</text><text x="68.6" y="18.7" text-anchor="end" font-size="16.5">25</text><text x="111.5" y="327.3" text-anchor="middle" font-size="16.5">0.0</text><text x="177.42" y="327.3" text-anchor="middle" font-size="16.5">0.2</text><text x="243.34" y="327.3" text-anchor="middle" font-size="16.5">0.4</text><text x="309.26" y="327.3" text-anchor="middle" font-size="16.5">0.6</text><text x="375.18" y="327.3" text-anchor="middle" font-size="16.5">0.8</text><text x="441.1" y="327.3" text-anchor="middle" font-size="16.5">1.0</text><text x="276.2" y="357.3" text-anchor="middle" font-size="20">Volatage (V)</text><text transform="translate(26.4,163.4) rotate(-90)" text-anchor="middle" font-size="20.5">Current Density (mA/cm<tspan dy="-10" font-size="11.5">2</tspan><tspan dy="10">)</tspan></text><text x="66.8" y="696.6" text-anchor="end" font-size="16.5">0</text><text x="66.8" y="638.48" text-anchor="end" font-size="16.5">20</text><text x="66.8" y="580.36" text-anchor="end" font-size="16.5">40</text><text x="66.8" y="522.24" text-anchor="end" font-size="16.5">60</text><text x="66.8" y="464.12" text-anchor="end" font-size="16.5">80</text><text x="66.8" y="406" text-anchor="end" font-size="16.5">100</text><text x="130.76" y="715.8" text-anchor="middle" font-size="16.5">400</text><text x="206.84" y="715.8" text-anchor="middle" font-size="16.5">500</text><text x="282.92" y="715.8" text-anchor="middle" font-size="16.5">600</text><text x="359" y="715.8" text-anchor="middle" font-size="16.5">700</text><text x="435.08" y="715.8" text-anchor="middle" font-size="16.5">800</text><text x="483.3" y="670.6" font-size="16.5" fill="#0000ee">0</text><text x="483.3" y="617.73" font-size="16.5" fill="#0000ee">5</text><text x="483.3" y="564.85" font-size="16.5" fill="#0000ee">10</text><text x="483.3" y="511.98" font-size="16.5" fill="#0000ee">15</text><text x="483.3" y="459.1" font-size="16.5" fill="#0000ee">20</text><text x="483.3" y="406.23" font-size="16.5" fill="#0000ee">25</text><text x="275.2" y="747.3" text-anchor="middle" font-size="20">Wavelength (nm)</text><text transform="translate(28.9,550.5) rotate(-90)" text-anchor="middle" font-size="20">EQE (%)</text><text transform="translate(536.6,557) rotate(-90)" text-anchor="middle" font-size="20">Integrated J<tspan dy="5.5" font-size="12.5">sc</tspan><tspan dy="-5.5">(mA/cm</tspan><tspan dy="-10" font-size="11.5">2</tspan><tspan dy="10">)</tspan></text></g></svg>
</body></html>
